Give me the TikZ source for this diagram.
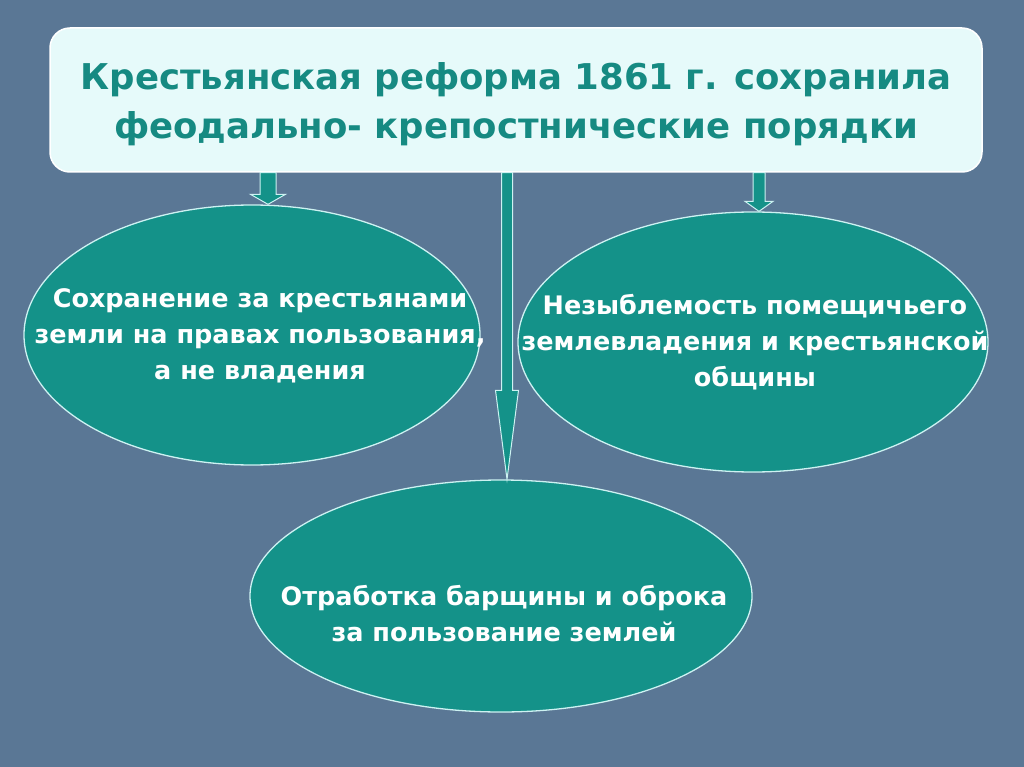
\documentclass[tikz,border=0pt]{standalone}
\usepackage{fontspec}
\setmainfont{DejaVu Sans}
\usetikzlibrary{shapes.geometric,calc}
\definecolor{bg}{RGB}{90,119,149}
\definecolor{hdrfill}{RGB}{230,250,250}
\definecolor{teal1}{RGB}{20,146,137}
\definecolor{ttxt}{RGB}{22,138,130}
\definecolor{edge}{RGB}{205,242,242}
\tikzset{
  hdr/.style={draw=white, line width=1.5pt, fill=hdrfill, rounded corners=20pt, inner sep=0pt},
  ell/.style={ellipse, draw=edge, line width=1.3pt, fill=teal1, inner sep=0pt},
  etext/.style={text=white, font=\bfseries\fontsize{25.5}{36}\selectfont, align=center},
  arr/.style={fill=teal1, draw=edge, line width=1pt, line join=miter}
}
\newcommand\fatarr[5]{%
  \path[arr] let \p1=(#1), \p2=(#2) in
    (\x1-#3,\y1) -- (\x1-#3,\y2+#5) -- (\x1-#4,\y2+#5) -- (\x2,\y2) --
    (\x1+#4,\y2+#5) -- (\x1+#3,\y2+#5) -- (\x1+#3,\y1) -- cycle;}
\begin{document}
\begin{tikzpicture}[x=1pt,y=-1pt]
\useasboundingbox (0,0) rectangle (1024,767);
\fill[bg] (0,0) rectangle (1024,767);
% ellipses
\node[ell, minimum width=456pt, minimum height=260pt] (L) at (252,335) {};
\node[ell, minimum width=470pt, minimum height=260pt] (R) at (753,342) {};
\node[ell, minimum width=502pt, minimum height=232pt] (B) at (501,596) {};
\node[etext] (Lt) at (260,336) {Сохранение за крестьянами\\земли на правах пользования,\\а не владения};
\node[etext] (Rt) at (755,342) {Незыблемость помещичьего\\землевладения и крестьянской\\общины};
\node[etext] (Bt) at (504,614) {Отработка барщины и оброка\\за пользование землей};
% header
\node[hdr, minimum width=932pt, minimum height=144pt] (H) at (516,100) {};
\node[text=ttxt, font=\bfseries\fontsize{35.5}{49}\selectfont, align=center] (Ht) at (516,104)
  {Крестьянская реформа 1861 г. сохранила\\феодально- крепостнические порядки};
% connector coordinates
\coordinate (s1) at (268,0 |- H.south);
\coordinate (e1) at (268,0 |- L.north);
\coordinate (s2) at (507,0 |- H.south);
\coordinate (e2) at (507,0 |- B.north);
\coordinate (s3) at (759,0 |- H.south);
\coordinate (e3) at (759,0 |- R.north);
\fatarr{s1}{e1}{8pt}{17.5pt}{10pt}
\fatarr{s2}{e2}{5.5pt}{11.5pt}{89pt}
\fatarr{s3}{e3}{6pt}{14pt}{10pt}
\end{tikzpicture}
\end{document}
